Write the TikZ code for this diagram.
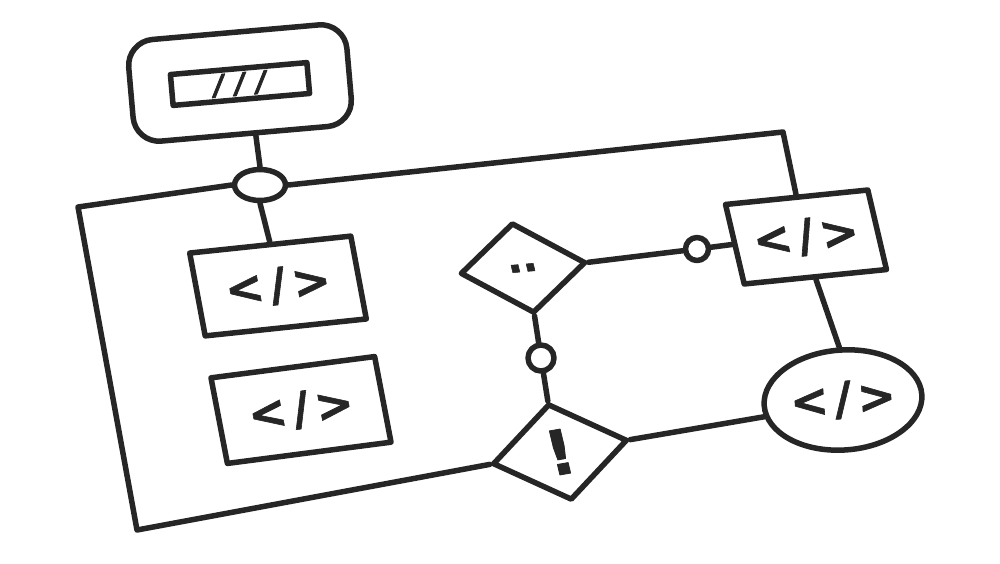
\documentclass[tikz,border=0pt]{standalone}
\usepackage{fontspec}
\setmainfont{DejaVu Sans}
\newfontfamily\codefont{DejaVu Sans}[BoldFeatures={FakeBold=1.3},BoldItalicFeatures={FakeBold=2.5}]
\usetikzlibrary{shapes.geometric,calc}
\definecolor{ink}{HTML}{262626}
\begin{document}
\begin{tikzpicture}[x=1pt,y=-1pt,line width=5.5pt,line join=round,line cap=round,color=ink,
  box/.style={draw,rectangle,inner sep=0pt},
  code/.style={font=\codefont\bfseries\fontsize{46}{46}\selectfont},
  dia/.style={draw,diamond,inner sep=0pt},
  dot/.style={draw,circle,inner sep=0pt},
  oval/.style={draw,ellipse,inner sep=0pt}]
\useasboundingbox[fill=white] (0,0) rectangle (1000,563);
% nodes
\node[box,rounded corners=26pt,minimum width=219pt,minimum height=102pt,rotate=5] (T) at (240,83) {};
\node[box,minimum width=137pt,minimum height=31pt,rotate=5,font=\codefont\bfseries\itshape\fontsize{28}{28}\selectfont] (I) at (240,84) {/\hspace{11pt}/\hspace{11pt}/};
\node[oval,minimum width=51pt,minimum height=31pt] (E1) at (260,185) {};
\node[box,code,minimum width=162pt,minimum height=84pt,rotate=6,xslant=-0.08] (B1) at (278,286) {<\hspace{6pt}/\hspace{6pt}>};
\node[box,code,minimum width=165pt,minimum height=87pt,rotate=7.4,xslant=-0.06] (B2) at (301,410) {<\hspace{6pt}/\hspace{6pt}>};
\node[box,code,minimum width=143pt,minimum height=81pt,rotate=5.8,xslant=-0.13] (R1) at (806,237) {<\hspace{6pt}/\hspace{6pt}>};
\node[dia,minimum width=126pt,minimum height=92pt,rotate=5,xslant=-0.15,font=\codefont\bfseries\fontsize{40}{40}\selectfont] (D1) at (523,268) {..};
\node[dia,minimum width=137pt,minimum height=99pt,rotate=10,xslant=-0.06,font=\codefont\bfseries\fontsize{62}{62}\selectfont] (D2) at (560,452) {!};
\node[dot,minimum size=23pt] (C1) at (697,249) {};
\node[dot,minimum size=26pt] (C2) at (541,358) {};
\node[oval,code,minimum width=158pt,minimum height=100pt,rotate=4] (E2) at (843,400) {<\hspace{6pt}/\hspace{6pt}>};
% frame corners
\coordinate (F1) at (78,207);
\coordinate (F2) at (137,530);
\coordinate (F3) at (783,132);
% connectors
\draw ($(T.south)!0.1!(T.south east)$) -- (E1.north);
\draw (E1.west) -- (F1) -- (F2) -- (D2.west);
\draw (E1.east) -- (F3) -- (R1.north);
\draw (E1.south) -- (B1.north);
\draw (D1.east) -- (C1);
\draw (C1) -- (R1.west);
\draw (D1.south) -- (C2);
\draw (C2) -- (D2.north);
\draw (R1.south) -- (E2.north);
\draw (E2.188) -- (D2.east);
\end{tikzpicture}
\end{document}
